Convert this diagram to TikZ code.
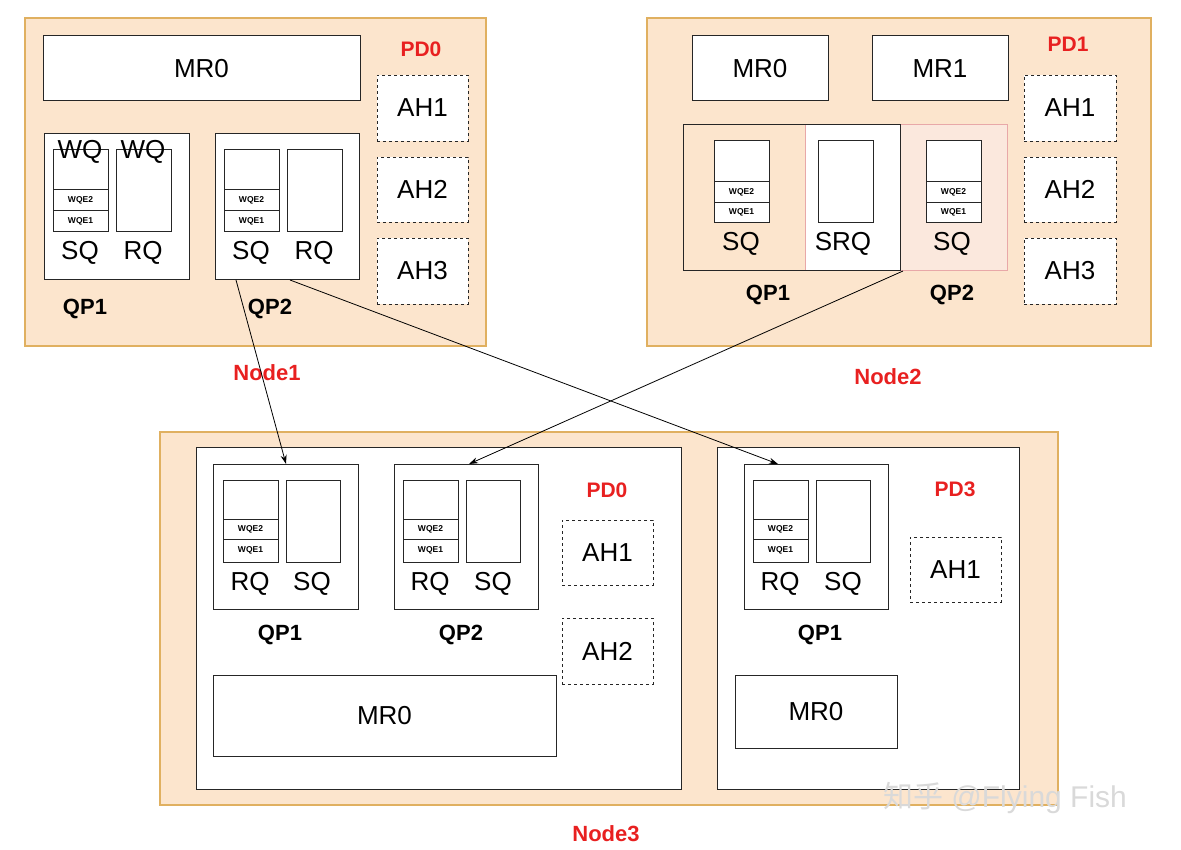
\documentclass[tikz,border=0pt]{standalone}
\usepackage{fontspec}
\setmainfont{Liberation Sans}
\newfontfamily\cjk{Noto Sans CJK SC}
\usetikzlibrary{arrows.meta}
\definecolor{peach}{HTML}{FCE5CD}
\definecolor{gold}{HTML}{E0B060}
\definecolor{pinkline}{HTML}{E8A8A8}
\definecolor{labred}{HTML}{E82020}
\tikzset{
 base/.style={inner sep=0pt,outer sep=0pt,draw},
 grp/.style={base,fill=peach,draw=gold,line width=1.2pt},
 box/.style={base,fill=white,draw=black!85,line width=1pt},
 ah/.style={base,fill=white,draw=black!85,dashed,line width=0.9pt,font=\fontsize{26}{26}\selectfont},
 big/.style={font=\fontsize{26}{26}\selectfont},
 qp/.style={font=\bfseries\fontsize{22}{22}\selectfont},
 pd/.style={font=\bfseries\fontsize{21}{21}\selectfont,text=labred},
 wqe/.style={base,fill=white,draw=black!85,line width=1pt,font=\bfseries\fontsize{8.5}{8.5}\selectfont},
 arr/.style={-{Stealth[length=9pt,width=6pt]},line width=0.8pt,black}
}
\newcommand\R[6]{\node[#6,minimum width={((#4)-(#2))*1pt},minimum height={((#5)-(#3))*1pt}] (#1) at ({((#2)+(#4))/2},{((#3)+(#5))/2}) {};}
\newcommand\RT[7]{\node[#6,minimum width={((#4)-(#2))*1pt},minimum height={((#5)-(#3))*1pt}] (#1) at ({((#2)+(#4))/2},{((#3)+(#5))/2}) {#7};}
% queue with WQEs: name, x, ytop, height of top part
\newcommand\QW[4]{\R{#1}{#2}{#3}{#2+55}{#3+82}{box}
 \RT{#1w2}{#2}{#3+#4}{#2+55}{#3+#4+20.5}{wqe}{WQE2}
 \RT{#1w1}{#2}{#3+#4+20.5}{#2+55}{#3+82}{wqe}{WQE1}}
\begin{document}
\begin{tikzpicture}[x=1pt,y=-1pt]
\useasboundingbox (0,0) rectangle (1181,850);
% ---------- Node1
\R{n1}{25}{18}{486}{346}{grp}
\RT{n1mr0}{43}{36}{360}{101}{box,big}{MR0}
\node[pd] (n1pd) at (421,49) {PD0};
\RT{n1ah1}{377}{75}{468}{141}{ah}{AH1}
\RT{n1ah2}{377}{157}{468}{222}{ah}{AH2}
\RT{n1ah3}{377}{238}{468}{304}{ah}{AH3}
\R{n1qp1}{44}{134}{189}{280}{box}
\QW{n1q1s}{53}{150}{40}
\R{n1q1r}{116}{150}{171}{232}{box}
\node[big] (n1wq1) at (80,152) {WQ};
\node[big] (n1wq2) at (143,152) {WQ};
\node[big] (n1l1) at (80,253) {SQ};
\node[big] (n1l2) at (143,253) {RQ};
\R{n1qp2}{215}{134}{359}{280}{box}
\QW{n1q2s}{224}{150}{40}
\R{n1q2r}{287}{150}{342}{232}{box}
\node[big] (n1l3) at (251,253) {SQ};
\node[big] (n1l4) at (314,253) {RQ};
\node[qp] (n1qp1l) at (85,309) {QP1};
\node[qp] (n1qp2l) at (270,309) {QP2};
\node[pd,font=\bfseries\fontsize{22}{22}\selectfont] (n1lab) at (267,373) {Node1};
% ---------- Node2
\R{n2}{647}{18}{1151}{346}{grp}
\RT{n2mr0}{692}{36}{828}{101}{box,big}{MR0}
\RT{n2mr1}{872}{36}{1008}{101}{box,big}{MR1}
\node[pd] (n2pd) at (1068,44) {PD1};
\RT{n2ah1}{1024}{75}{1116}{141}{ah}{AH1}
\RT{n2ah2}{1024}{157}{1116}{222}{ah}{AH2}
\RT{n2ah3}{1024}{238}{1116}{304}{ah}{AH3}
\R{n2qp2}{805}{125}{1007}{271}{base,fill=peach!80!pinkline!60,draw=pinkline,line width=1pt}
\R{n2srq}{805}{125}{900}{271}{base,fill=white,draw=pinkline,line width=1pt}
\R{n2qp1}{683}{125}{900}{271}{base,draw=black!85,line width=1pt}
\QW{n2q1}{714}{141}{41}
\R{n2q2}{818}{141}{873}{223}{box}
\QW{n2q3}{926}{141}{41}
\node[big] (n2l1) at (741,244) {SQ};
\node[big] (n2l2) at (843,244) {SRQ};
\node[big] (n2l3) at (952,244) {SQ};
\node[qp] (n2qp1l) at (768,295) {QP1};
\node[qp] (n2qp2l) at (952,295) {QP2};
\node[pd,font=\bfseries\fontsize{22}{22}\selectfont] (n2lab) at (888,377) {Node2};
% ---------- Node3
\R{n3}{160}{432}{1058}{805}{grp}
\R{n3a}{196}{447}{681}{789}{box}
\R{n3b}{717}{447}{1019}{789}{box}
\R{n3qp1}{213}{464}{358}{609}{box}
\QW{n3q1r}{223}{480}{39}
\R{n3q1s}{286}{480}{340}{562}{box}
\node[big] (n3l1) at (250,584) {RQ};
\node[big] (n3l2) at (312,584) {SQ};
\node[qp] (n3qp1l) at (280,635) {QP1};
\R{n3qp2}{394}{464}{538}{609}{box}
\QW{n3q2r}{403}{480}{39}
\R{n3q2s}{466}{480}{520}{562}{box}
\node[big] (n3l3) at (430,584) {RQ};
\node[big] (n3l4) at (493,584) {SQ};
\node[qp] (n3qp2l) at (461,635) {QP2};
\node[pd] (n3pd0) at (607,490) {PD0};
\RT{n3ah1}{562}{520}{653}{585}{ah}{AH1}
\RT{n3ah2}{562}{618}{653}{684}{ah}{AH2}
\RT{n3mr0}{213}{675}{556}{756}{box,big}{MR0}
\R{n3bqp1}{744}{464}{888}{609}{box}
\QW{n3bq1r}{753}{480}{39}
\R{n3bq1s}{816}{480}{870}{562}{box}
\node[big] (n3l5) at (780,584) {RQ};
\node[big] (n3l6) at (843,584) {SQ};
\node[qp] (n3bqp1l) at (820,635) {QP1};
\node[pd] (n3pd3) at (955,489) {PD3};
\RT{n3bah1}{910}{537}{1001}{602}{ah}{AH1}
\RT{n3bmr0}{735}{675}{897}{748}{box,big}{MR0}
\node[pd,font=\bfseries\fontsize{22}{22}\selectfont] (n3lab) at (606,834) {Node3};
% ---------- connectors
\coordinate (c1) at (236,280); \coordinate (t1) at (286,464);
\coordinate (c2) at (290,280); \coordinate (t2) at (778,464);
\coordinate (c3) at (903,271); \coordinate (t3) at (469,464);
\draw[arr] (c1) -- (t1);
\draw[arr] (c2) -- (t2);
\draw[arr] (c3) -- (t3);
% watermark
\node[text=white!70!gray,font=\fontsize{30}{30}\selectfont] (wm) at (1005,798) {{\cjk 知乎} @Flying Fish};
\end{tikzpicture}
\end{document}
